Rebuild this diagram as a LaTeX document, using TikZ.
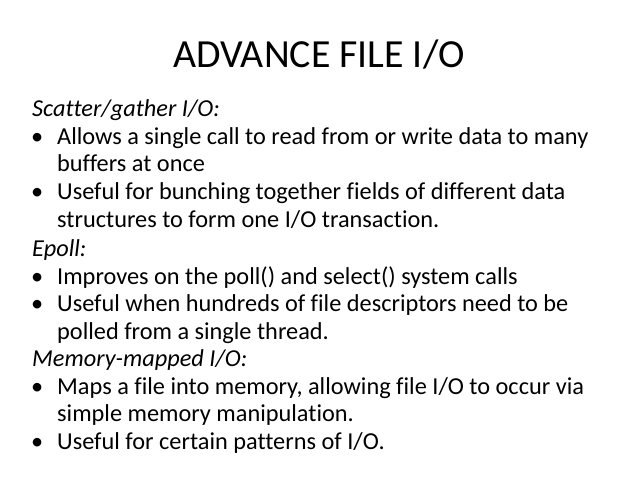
\documentclass[tikz,border=0pt]{standalone}
\usepackage{fontspec}
\setmainfont[RawFeature={-liga;-dlig;-clig}]{Carlito}
\begin{document}
\begin{tikzpicture}[x=1bp,y=-1bp,
  ln/.style={anchor=base west,inner sep=0pt,font=\fontsize{24.4}{28}\selectfont},
  it/.style={ln,font=\fontsize{24.4}{28}\selectfont\itshape}]
\useasboundingbox (0,0) rectangle (638,478);
\node[anchor=base,inner sep=0pt,font=\fontsize{40}{48}\selectfont] (t) at (319,68) {ADVANCE FILE I/O};
\newcommand\bl[2]{\node[ln] (#1b) at (31,#2) {\textbullet};}
\node[it] (h1) at (32,117) {Scatter/gather I/O:};
\bl{l1}{145}\node[ln] (l1) at (57,145) {Allows a single call to read from or write data to many};
\node[ln] (l2) at (57,172) {buffers at once};
\bl{l3}{200}\node[ln] (l3) at (57,200) {Useful for bunching together fields of different data};
\node[ln] (l4) at (57,228) {structures to form one I/O transaction.};
\node[it] (h2) at (32,256) {Epoll:};
\bl{l5}{284}\node[ln] (l5) at (57,284) {Improves on the poll() and select() system calls};
\bl{l6}{311}\node[ln] (l6) at (57,311) {Useful when hundreds of file descriptors need to be};
\node[ln] (l7) at (57,339) {polled from a single thread.};
\node[it] (h3) at (32,366) {Memory-mapped I/O:};
\bl{l8}{394}\node[ln] (l8) at (57,394) {Maps a file into memory, allowing file I/O to occur via};
\node[ln] (l9) at (57,421) {simple memory manipulation.};
\bl{l10}{449}\node[ln] (l10) at (57,449) {Useful for certain patterns of I/O.};
\end{tikzpicture}
\end{document}
